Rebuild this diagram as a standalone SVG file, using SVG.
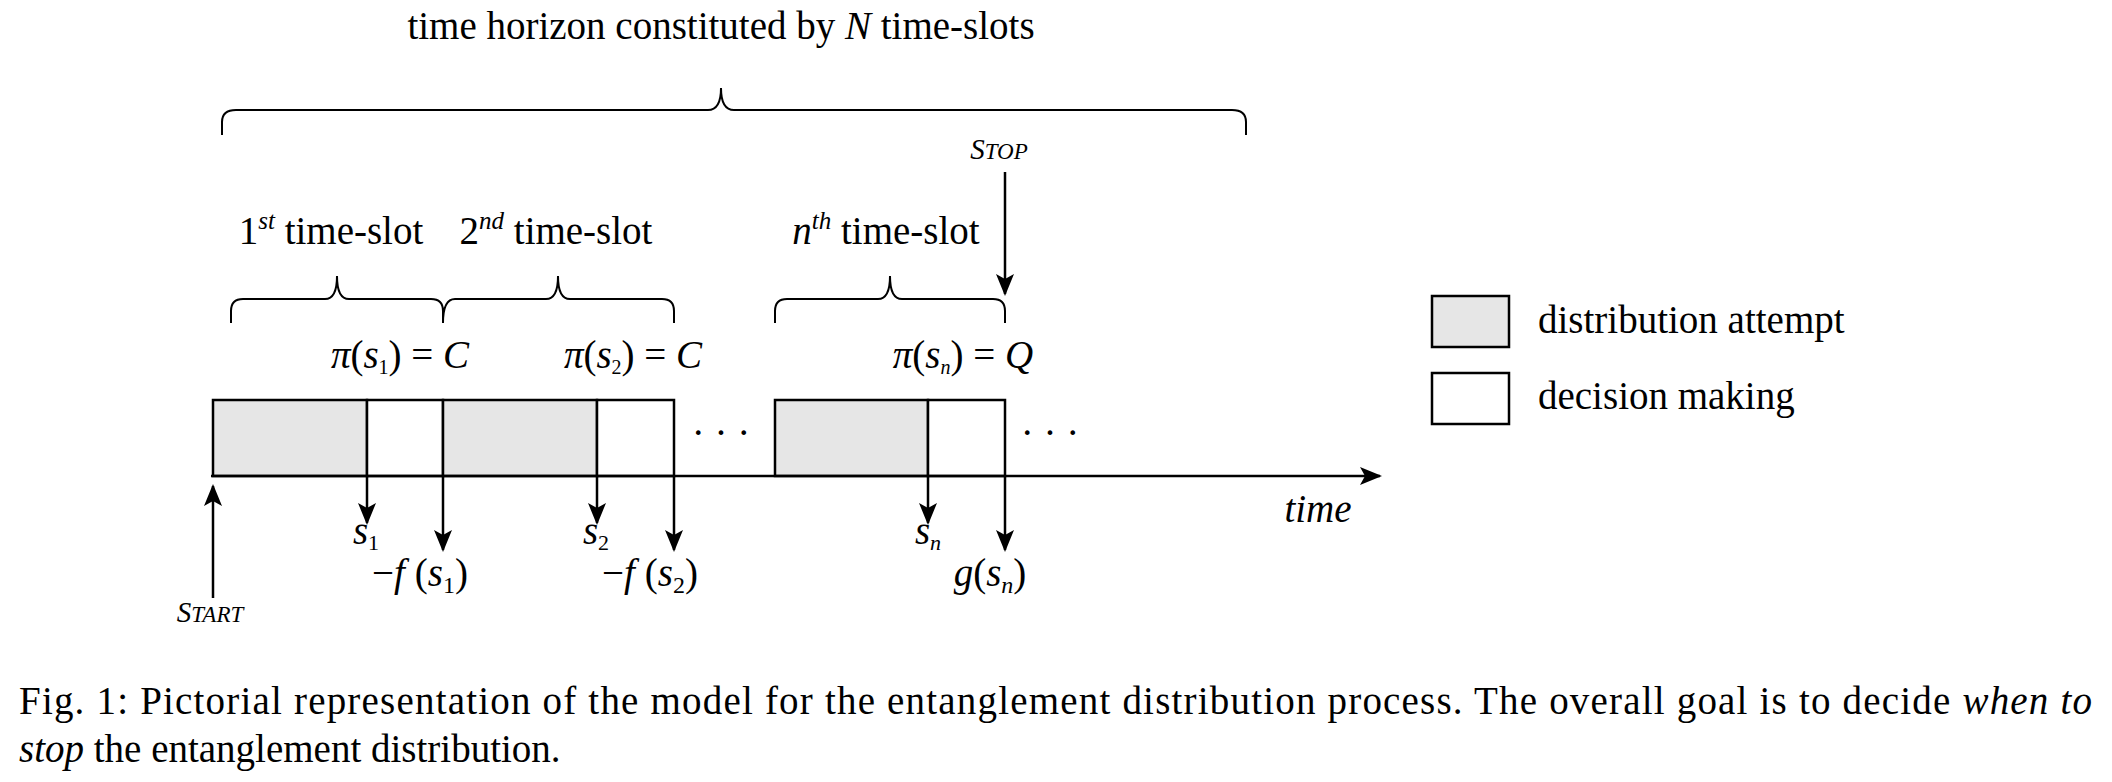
<svg xmlns="http://www.w3.org/2000/svg" width="2112" height="782" viewBox="0 0 2112 782">
<style>
text{font-family:"Liberation Serif","DejaVu Serif",serif;font-size:39px;fill:#000}
.i{font-style:italic}
.sc{font-style:italic;font-size:29px}
.ln{stroke:#000;stroke-width:2.5;fill:none}
.br{stroke:#000;stroke-width:2;fill:none}
.g{fill:#e6e6e6;stroke:#000;stroke-width:2.5}
.w{fill:#fff;stroke:#000;stroke-width:2.5}
</style>
<defs>
<marker id="b" markerWidth="22" markerHeight="22" refX="20" refY="11" orient="auto" markerUnits="userSpaceOnUse" viewBox="0 0 22 22">
<path d="M0,2 L22,11 L0,20 L5,11 Z" fill="#000"/>
</marker>
</defs>
<g id="title"><text x="721" y="39" text-anchor="middle">time horizon constituted by <tspan class="i">N</tspan> time-slots</text></g>
<g id="braces">
<path class="br" d="M222,135 V122 Q222,110 236,110 H708 Q721,110 721,88 Q721,110 734,110 H1232 Q1246,110 1246,122 V135"/>
<path class="br" d="M231,323 V311 Q231,299 243,299 H325 Q337,299 337,276 Q337,299 349,299 H431 Q443,299 443,311 V323 Q443,299 455,299 H546 Q558,299 558,276 Q558,299 570,299 H662 Q674,299 674,311 V323"/>
<path class="br" d="M775,323 V311 Q775,299 787,299 H878 Q890,299 890,276 Q890,299 902,299 H993 Q1005,299 1005,311 V323"/>
</g>
<g id="slot-labels">
<text x="331" y="244" text-anchor="middle">1<tspan class="i" font-size="25" dy="-15">st</tspan><tspan dy="15"> time-slot</tspan></text>
<text x="556" y="244" text-anchor="middle">2<tspan class="i" font-size="25" dy="-15">nd</tspan><tspan dy="15"> time-slot</tspan></text>
<text x="886" y="244" text-anchor="middle"><tspan class="i">n</tspan><tspan class="i" font-size="25" dy="-15">th</tspan><tspan dy="15"> time-slot</tspan></text>
</g>
<g id="policy-labels">
<text x="400" y="368" text-anchor="middle" font-size="29"><tspan class="i">π</tspan>(<tspan class="i">s</tspan><tspan font-size="20" dy="6">1</tspan><tspan dy="-6">) = </tspan><tspan class="i">C</tspan></text>
<text x="633" y="368" text-anchor="middle" font-size="29"><tspan class="i">π</tspan>(<tspan class="i">s</tspan><tspan font-size="20" dy="6">2</tspan><tspan dy="-6">) = </tspan><tspan class="i">C</tspan></text>
<text x="963" y="368" text-anchor="middle" font-size="29"><tspan class="i">π</tspan>(<tspan class="i">s</tspan><tspan class="i" font-size="20" dy="6">n</tspan><tspan dy="-6">) = </tspan><tspan class="i">Q</tspan></text>
</g>
<g id="slot1"><rect class="g" x="213" y="400" width="154" height="76"/><rect class="w" x="367" y="400" width="76" height="76"/></g>
<g id="slot2"><rect class="g" x="443" y="400" width="154" height="76"/><rect class="w" x="597" y="400" width="77" height="76"/></g>
<g id="slotn"><rect class="g" x="775" y="400" width="153" height="76"/><rect class="w" x="928" y="400" width="77" height="76"/></g>
<g id="dots"><text x="721" y="446" text-anchor="middle" font-size="31">· · ·</text><text x="1050" y="446" text-anchor="middle" font-size="31">· · ·</text></g>
<g id="connectors">
<line class="ln" x1="211" y1="476" x2="1380" y2="476" marker-end="url(#b)"/>
<line class="ln" x1="213" y1="598" x2="213" y2="486" marker-end="url(#b)"/>
<line class="ln" x1="1005" y1="172" x2="1005" y2="294" marker-end="url(#b)"/>
<line class="ln" x1="367" y1="476" x2="367" y2="523" marker-end="url(#b)"/>
<line class="ln" x1="443" y1="476" x2="443" y2="550" marker-end="url(#b)"/>
<line class="ln" x1="597" y1="476" x2="597" y2="523" marker-end="url(#b)"/>
<line class="ln" x1="674" y1="476" x2="674" y2="550" marker-end="url(#b)"/>
<line class="ln" x1="928" y1="476" x2="928" y2="523" marker-end="url(#b)"/>
<line class="ln" x1="1005" y1="476" x2="1005" y2="550" marker-end="url(#b)"/>
</g>
<g id="value-labels">
<text x="366" y="544" text-anchor="middle" font-size="34"><tspan class="i">s</tspan><tspan font-size="22" dy="6">1</tspan></text>
<text x="420" y="586" text-anchor="middle" font-size="37">−<tspan class="i">f</tspan> (<tspan class="i">s</tspan><tspan font-size="24" dy="7">1</tspan><tspan dy="-7">)</tspan></text>
<text x="596" y="544" text-anchor="middle" font-size="34"><tspan class="i">s</tspan><tspan font-size="22" dy="6">2</tspan></text>
<text x="650" y="586" text-anchor="middle" font-size="37">−<tspan class="i">f</tspan> (<tspan class="i">s</tspan><tspan font-size="24" dy="7">2</tspan><tspan dy="-7">)</tspan></text>
<text x="928" y="544" text-anchor="middle" font-size="34"><tspan class="i">s</tspan><tspan class="i" font-size="22" dy="6">n</tspan></text>
<text x="990" y="586" text-anchor="middle" font-size="37"><tspan class="i">g</tspan>(<tspan class="i">s</tspan><tspan class="i" font-size="24" dy="7">n</tspan><tspan dy="-7">)</tspan></text>
<text x="1318" y="522" text-anchor="middle" class="i" font-size="40">time</text>
<text x="999" y="159" text-anchor="middle" class="sc">S<tspan font-size="23">TOP</tspan></text>
<text x="210" y="622" text-anchor="middle" class="sc">S<tspan font-size="23">TART</tspan></text>
</g>
<g id="legend">
<rect class="g" x="1432" y="296" width="77" height="51"/>
<text x="1538" y="333">distribution attempt</text>
<rect class="w" x="1432" y="373" width="77" height="51"/>
<text x="1538" y="409">decision making</text>
</g>
<g id="caption">
<text x="19" y="714" font-size="40" textLength="2073" lengthAdjust="spacing">Fig. 1: Pictorial representation of the model for the entanglement distribution process. The overall goal is to decide <tspan class="i">when to</tspan></text>
<text x="19" y="762" font-size="40"><tspan class="i">stop</tspan> the entanglement distribution.</text>
</g>
</svg>
